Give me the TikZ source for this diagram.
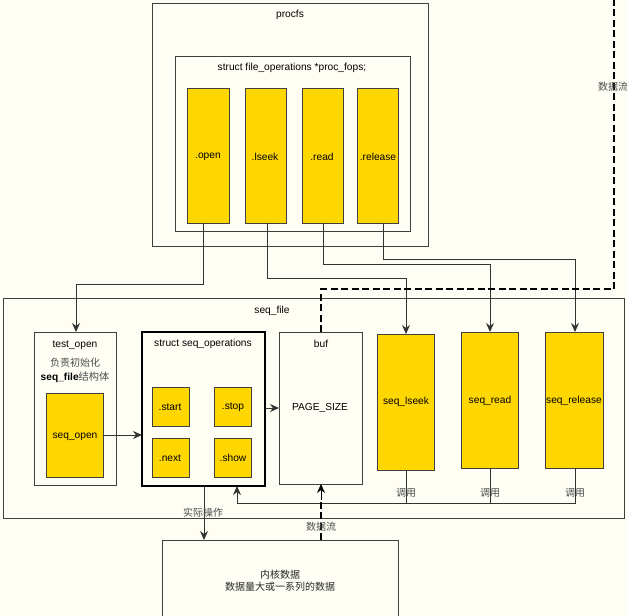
\documentclass[tikz,border=0pt]{standalone}
\usepackage{fontspec}
\setmainfont{Liberation Sans}
\newfontfamily\cjk{Noto Sans CJK SC}
\usetikzlibrary{arrows.meta}
\definecolor{gold}{HTML}{FFD700}
\begin{document}
\begin{tikzpicture}[x=1pt,y=-1pt,
  box/.style={draw=black!75,line width=0.9pt,fill=none},
  ybox/.style={draw=black!75,line width=0.9pt,fill=gold},
  lbl/.style={font=\fontsize{10.2}{12}\selectfont},
  cn/.style={font=\cjk\fontsize{10}{12}\selectfont,text=black!70},
  ln/.style={draw=black!80,line width=1pt},
  arr/.style={ln,-{Stealth[length=9pt,width=8pt]}},
  dsh/.style={line width=2pt,dash pattern=on 7pt off 3.5pt}]
\fill[yellow!4!white] (0,0) rectangle (627,616);
\useasboundingbox (0,0) rectangle (627,616);
% procfs
\draw[box] (152,3) rectangle (428,246);
\node[lbl] (procfs) at (290,15) {procfs};
\draw[box] (175,56) rectangle (410,231);
\node[lbl] (fops) at (292,68) {struct file\_operations *proc\_fops;};
\draw[ybox] (187,88) rectangle (229,223); \node[lbl] (open) at (208,157) {.open};
\draw[ybox] (245,88) rectangle (286,223); \node[lbl] (lseek) at (265,157) {.lseek};
\draw[ybox] (302,88) rectangle (343,223); \node[lbl] (read) at (322,157) {.read};
\draw[ybox] (357,88) rectangle (398,223); \node[lbl] (rel) at (378,157) {.release};
% seq_file
\draw[box] (3,298) rectangle (624,518);
\node[lbl] (seqfile) at (272,311) {seq\_file};
\draw[box] (34,332) rectangle (116,485);
\node[lbl] (topen) at (75,345) {test\_open};
\node[cn] (t1) at (75,363) {负责初始化};
\node[font=\fontsize{10.2}{12}\selectfont] (t2) at (75,377) {\textbf{seq\_file}{\cjk\color{black!70}结构体}};
\draw[ybox] (46,393) rectangle (103,477); \node[lbl] (sopen) at (75,437) {seq\_open};
\draw[line width=2pt] (142,332) rectangle (265,486);
\node[lbl] (sops) at (203,344) {struct seq\_operations};
\draw[ybox] (152,387) rectangle (189,426); \node[lbl] (start) at (170,407) {.start};
\draw[ybox] (214,387) rectangle (251,426); \node[lbl] (stop) at (233,407) {.stop};
\draw[ybox] (152,438) rectangle (189,477); \node[lbl] (next) at (170,458) {.next};
\draw[ybox] (214,438) rectangle (251,477); \node[lbl] (show) at (233,458) {.show};
\draw[box] (279,332) rectangle (362,484);
\node[lbl] (buf) at (321,344) {buf};
\node[lbl] (psize) at (320,408) {PAGE\_SIZE};
\draw[ybox] (377,334) rectangle (434,470); \node[lbl] (slseek) at (406,402) {seq\_lseek};
\draw[ybox] (461,332) rectangle (518,468); \node[lbl] (sread) at (490,401) {seq\_read};
\draw[ybox] (545,332) rectangle (603,468); \node[lbl] (srel) at (574,401) {seq\_release};
% kernel
\draw[box] (162,540) -- (162,620) (398,540) -- (398,620) (162,540) -- (398,540);
\node[cn,align=center,text=black!85] (kern) at (280,581) {内核数据\\数据量大或一系列的数据};
% connectors
\draw[arr] (203,223) |- (76,284) -- (76,332);
\draw[arr] (267,223) |- (406,278) -- (406,334);
\draw[arr] (323,223) |- (490,264) -- (490,332);
\draw[arr] (383,223) |- (575,259) -- (575,332);
\draw[arr] (103,435) -- (142,435);
\draw[arr] (265,408) -- (279,408);
\draw[ln] (406,470) -- (406,503) (490,468) -- (490,503);
\draw[arr] (575,468) -- (575,503) -- (237,503) -- (237,486);
\node[cn] (c1) at (406,493) {调用};
\node[cn] (c2) at (490,493) {调用};
\node[cn] (c3) at (575,493) {调用};
\draw[arr] (204,486) -- (204,540);
\node[cn] (act) at (203,513) {实际操作};
\draw[dsh] (321,332) -- (321,289) -- (614,289) -- (614,0);
\node[cn] (df1) at (613,87) {数据流};
\draw[dsh] (321,540) -- (321,498);
\draw[-{Stealth[length=9pt,width=8pt]},line width=1pt] (321,500) -- (321,484);
\node[cn] (df2) at (321,527) {数据流};
\end{tikzpicture}
\end{document}
